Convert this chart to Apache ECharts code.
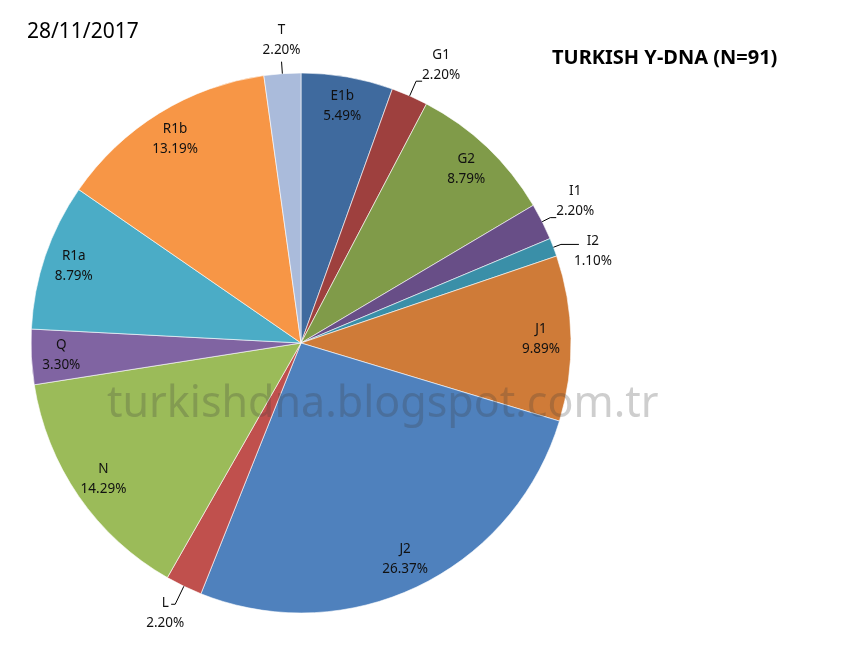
<!DOCTYPE html>
<html><head><meta charset="utf-8">
<script src="https://cdn.jsdelivr.net/npm/echarts@6/dist/echarts.min.js"></script>
<style>html,body{margin:0;padding:0;background:#fff}#c{width:859px;height:661px}</style>
</head><body><div id="c"></div>
<script>
// ---- data ----
const haplogroups = ['E1b','G1','G2','I1','I2','J1','J2','L','N','Q','R1a','R1b','T'];
const counts = [5, 2, 8, 2, 1, 9, 24, 2, 13, 3, 8, 12, 2];
const sliceColors = ['#3F6A9E','#9E403E','#809B49','#684E87','#3A8FA8','#CF7B38',
                     '#4F81BD','#C0504D','#9BBB59','#8064A2','#4BACC6','#F79646','#AABBDB'];
const outsideLabels = ['T','G1','I1','I2','L'];
const chartTitle = 'TURKISH Y-DNA (N=91)';
const dateText = '28/11/2017';
const watermarkText = 'turkishdna.blogspot.com.tr';

// ---- style config ----
const FONT = 'Noto Sans';
const total = counts.reduce((a, b) => a + b, 0);
const leaderStyle = {
  T:  { length: 12, length2: 0,  mode: 'above' },
  G1: { length: 16, length2: 6,  mode: 'upRight' },
  I1: { length: 9,  length2: 6,  mode: 'upRight' },
  I2: { length: 8,  length2: 18, mode: 'right' },
  L:  { length: 20, length2: 4,  mode: 'below' }
};
const CENTER = [301, 343];
const R = 270;

const baseData = haplogroups.map((n, i) => ({
  name: n, value: counts[i], itemStyle: { color: sliceColors[i] }
}));

const labelData = haplogroups.map((n, i) => {
  const out = outsideLabels.indexOf(n) >= 0;
  const item = { name: n, value: counts[i] };
  if (out) {
    const ls = leaderStyle[n];
    item.label = { position: 'outside' };
    item.labelLine = { show: true, length: ls.length, length2: ls.length2 };
  }
  return item;
});

const chart = echarts.init(document.getElementById('c'), null, { renderer: 'canvas' });
chart.setOption({
  animation: false,
  backgroundColor: '#fff',
  title: [
    { text: dateText, left: 27, top: 22, padding: 0,
      textStyle: { fontFamily: FONT, fontSize: 21, fontWeight: 'normal', color: '#000' } },
    { text: chartTitle, left: 552, top: 48, padding: 0,
      textStyle: { fontFamily: FONT, fontSize: 20, fontWeight: 'bold', color: '#000' } },
    { text: watermarkText, left: 107, top: 379, padding: 0, z: 20,
      textStyle: { fontFamily: FONT, fontSize: 43, fontWeight: 'normal', color: 'rgba(60,60,60,0.25)', lineHeight: 52 } }
  ],
  series: [
    {
      type: 'pie', center: CENTER, radius: [0, R], startAngle: 90, clockwise: true,
      silent: true, label: { show: false }, labelLine: { show: false },
      itemStyle: { borderColor: '#fff', borderWidth: 0.6 },
      data: baseData
    },
    {
      type: 'pie', center: CENTER, radius: [R - 66, R], startAngle: 90, clockwise: true,
      silent: true, avoidLabelOverlap: false, z: 3,
      itemStyle: { color: 'rgba(0,0,0,0)', borderWidth: 0 },
      label: {
        show: true, position: 'inside', fontFamily: FONT, fontSize: 13.5, lineHeight: 20,
        color: '#111', align: 'center',
        formatter: p => p.name + '\n' + (p.value / total * 100).toFixed(2) + '%'
      },
      labelLine: { show: false, lineStyle: { color: '#000', width: 1 } },
      labelLayout: function (p) {
        const name = haplogroups[p.dataIndex];
        const ls = leaderStyle[name];
        if (!ls || !p.labelLinePoints) return {};
        const pts = p.labelLinePoints;
        const end = pts[2];
        const w = p.labelRect.width;
        if (ls.mode === 'above') {
          return { x: pts[1][0], y: pts[1][1] - 2, align: 'center', verticalAlign: 'bottom', labelLinePoints: pts };
        }
        if (ls.mode === 'upRight') {
          return { x: end[0] + w / 2, y: end[1] + 4, align: 'center', verticalAlign: 'bottom', labelLinePoints: pts };
        }
        if (ls.mode === 'right') {
          return { x: end[0] + w / 2 - 5, y: end[1] + 7, align: 'center', verticalAlign: 'middle', labelLinePoints: pts };
        }
        if (ls.mode === 'below') {
          return { x: end[0] - w / 2 + 13, y: end[1] - 11, align: 'center', verticalAlign: 'top', labelLinePoints: pts };
        }
        return {};
      },
      data: labelData
    }
  ]
});
</script></body></html>
